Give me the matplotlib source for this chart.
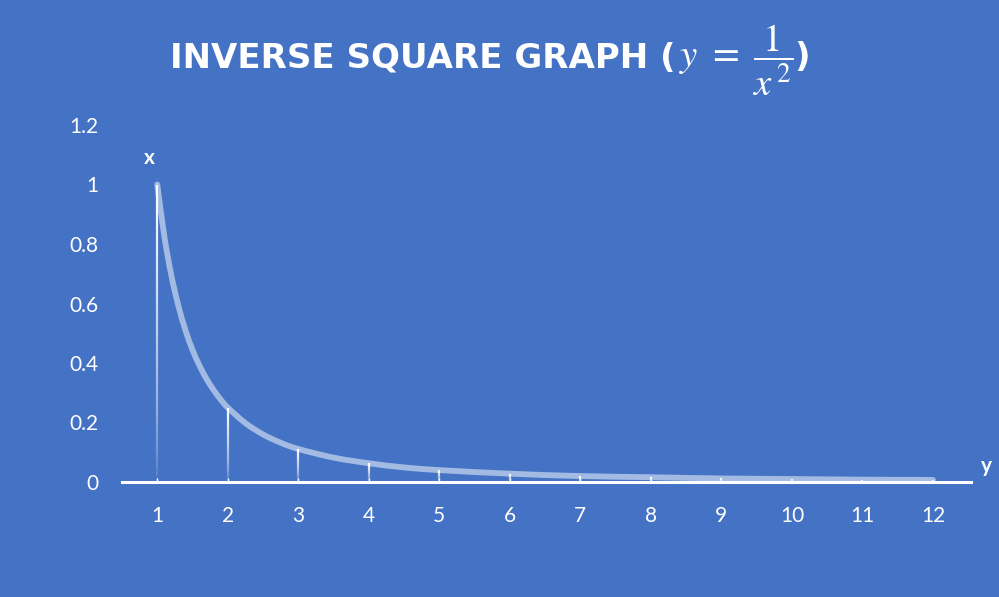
import numpy as np
import matplotlib
matplotlib.use('Agg')
import matplotlib.pyplot as plt
from matplotlib.path import Path
from matplotlib.patches import PathPatch
from matplotlib.collections import LineCollection

# curve
curve_x = [1, 1.1, 1.2, 1.3, 1.4, 1.5, 1.6, 1.7, 1.8, 1.9, 2, 2.25, 2.5, 2.75,
           3, 3.5, 4, 4.5, 5, 6, 7, 8, 9, 10, 11, 12]
curve_y = [1, 0.826, 0.694, 0.592, 0.510, 0.444, 0.391, 0.346, 0.309, 0.277,
           0.25, 0.198, 0.16, 0.132, 0.111, 0.082, 0.063, 0.049, 0.04, 0.028,
           0.020, 0.016, 0.012, 0.010, 0.008, 0.007]

# points with drop lines
drop_x = [1, 2, 3, 4, 5, 6, 7, 8, 9, 10, 11, 12]
drop_y = [1, 0.25, 0.111, 0.063, 0.04, 0.028, 0.02, 0.016, 0.012, 0.01, 0.008, 0.007]

x_ticks = [1, 2, 3, 4, 5, 6, 7, 8, 9, 10, 11, 12]
y_ticks = [0, 0.2, 0.4, 0.6, 0.8, 1, 1.2]
y_tick_labels = ['0', '0.2', '0.4', '0.6', '0.8', '1', '1.2']

bg = '#4472C4'
curve_color = '#A3BAE3'

plt.rcParams['font.family'] = ['Lato', 'DejaVu Sans']
plt.rcParams['mathtext.fontset'] = 'stix'

W, H = 999, 597
fig = plt.figure(figsize=(W / 100, H / 100), dpi=100, facecolor=bg)
ax = fig.add_axes([122 / W, (H - 482) / H, (971 - 122) / W, (482 - 125) / H])
ax.set_facecolor(bg)


def smooth_path(xs, ys):
    # catmull-rom style smoothing as bezier segments (like a "smoothed line")
    pts = np.c_[xs, ys]
    ext = np.vstack([pts[0], pts, pts[-1]])
    verts = [pts[0]]
    codes = [Path.MOVETO]
    for i in range(1, len(ext) - 2):
        p0, p1, p2, p3 = ext[i - 1], ext[i], ext[i + 1], ext[i + 2]
        verts += [p1 + (p2 - p0) / 6, p2 - (p3 - p1) / 6, p2]
        codes += [Path.CURVE4] * 3
    return Path(verts, codes)


ax.add_patch(PathPatch(smooth_path(curve_x, curve_y), facecolor='none',
                       edgecolor=curve_color, lw=4.2, capstyle='round',
                       joinstyle='round', zorder=2))

# fading drop lines
segs, cols = [], []
n = 40
for x, y in zip(drop_x, drop_y):
    ys = np.linspace(0, y, n + 1)
    for k in range(n):
        segs.append([(x, ys[k]), (x, ys[k + 1])])
        a = ((k + 0.5) / n) ** 0.6
        cols.append((1, 1, 1, a))
ax.add_collection(LineCollection(segs, colors=cols, linewidths=1.6,
                                 capstyle='butt', zorder=3))

ax.set_xlim(0.5, 12.54)
ax.set_ylim(0, 1.2)
for s in ['top', 'right', 'left']:
    ax.spines[s].set_visible(False)
ax.spines['bottom'].set_color('white')
ax.spines['bottom'].set_linewidth(2.2)
ax.spines['bottom'].set_zorder(4)

ax.set_xticks(x_ticks)
ax.set_yticks(y_ticks)
ax.set_yticklabels(y_tick_labels)
ax.tick_params(axis='x', colors='white', direction='in', length=3, width=1,
               labelsize=15, pad=17)
ax.tick_params(axis='y', colors='white', length=0, labelsize=15, pad=17)

fig.text(149 / W, 1 - 158 / H, 'x', color='white', fontsize=15,
         fontweight='bold', ha='center', va='center')
fig.text(986 / W, 1 - 466 / H, 'y', color='white', fontsize=15,
         fontweight='bold', ha='center', va='center')

# title in three pieces so the formula can be larger
base = 1 - 67 / H
tstyle = dict(color='white', fontsize=24.5, fontweight='bold', family='DejaVu Sans',
              va='baseline')
renderer = fig.canvas.get_renderer()
t1 = fig.text(170 / W, base, 'INVERSE SQUARE GRAPH (', ha='left', **tstyle)
x1 = t1.get_window_extent(renderer).x1
t2 = fig.text((x1 + 3) / W, base, r'$y\ =\ \dfrac{1}{x^{\,2}}$', color='white',
              fontsize=28, ha='left', va='baseline')
x2 = t2.get_window_extent(renderer).x1
fig.text((x2 + 1) / W, base, ')', ha='left', **tstyle)

fig.savefig('out.png', dpi=100, facecolor=bg)
